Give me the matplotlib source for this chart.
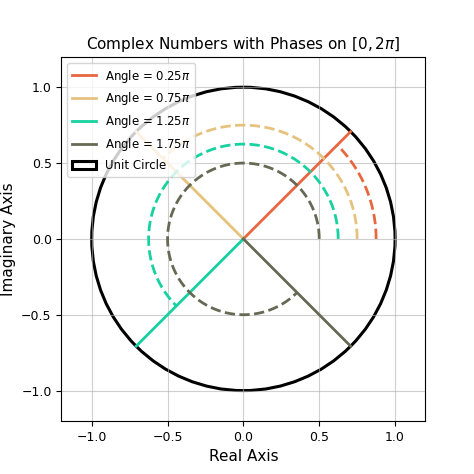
import numpy as np
import matplotlib.pyplot as plt

angles_pi = [0.25, 0.75, 1.25, 1.75]
arc_radii = [0.875, 0.75, 0.625, 0.5]
colors = ['#E8673F', '#E6C27F', '#16D1A0', '#666A54']

fig, ax = plt.subplots(figsize=(4.74, 4.74), dpi=100)
fig.subplots_adjust(left=0.127, right=0.9, bottom=0.112, top=0.88)

for a, r, c in zip(angles_pi, arc_radii, colors):
    th = a * np.pi
    ax.plot([0, np.cos(th)], [0, np.sin(th)], color=c, lw=2, label=f'Angle = {a}$\\pi$')
    t = np.linspace(0, th, 200)
    ax.plot(r * np.cos(t), r * np.sin(t), color=c, lw=2, ls='--')

# unit circle as a patch so the legend shows a box
ax.add_patch(plt.Circle((0, 0), 1, fill=False, color='black', lw=2.2, label='Unit Circle'))

ax.set_xlim(-1.2, 1.2)
ax.set_ylim(-1.2, 1.2)
ax.set_aspect('equal')
ax.grid(True, alpha=0.6)
ax.tick_params(labelsize=9)
ax.set_title('Complex Numbers with Phases on $[0, 2\\pi]$', fontsize=11)
ax.set_xlabel('Real Axis', fontsize=11)
ax.set_ylabel('Imaginary Axis', fontsize=11)
ax.legend(loc='upper left', fontsize=8.5)
fig.savefig('out.png')
